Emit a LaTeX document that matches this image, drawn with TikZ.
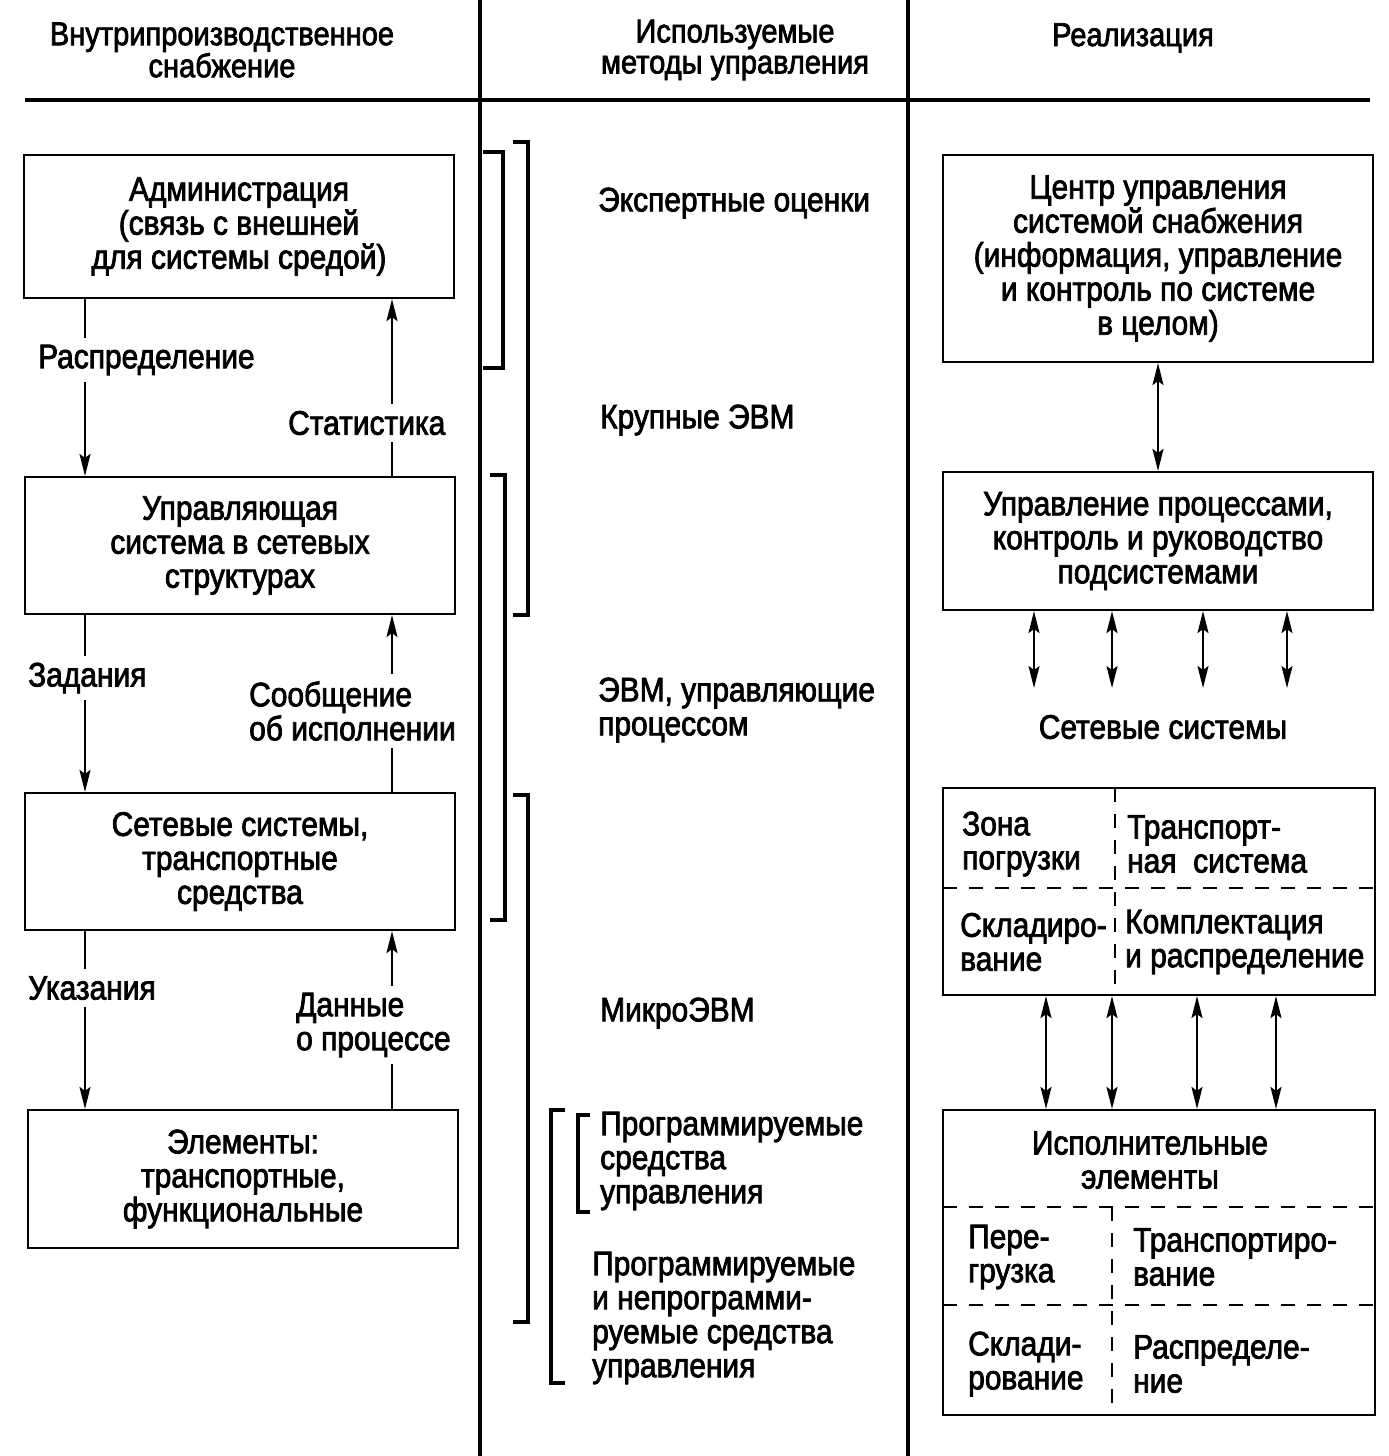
\documentclass[tikz,border=0pt]{standalone}
\usepackage{fontspec}
\setmainfont{Liberation Sans}[FakeStretch=0.88,FakeBold=2.2]
\usetikzlibrary{arrows.meta}
\begin{document}
\begin{tikzpicture}[x=1pt, y=-1pt,
    every node/.style={font=\fontsize{34}{34}\selectfont, inner sep=3pt},
    box/.style={draw, line width=2.2pt, minimum width=430pt, align=center},
    lbl/.style={anchor=west, align=left, inner sep=7pt},
    head/.style={align=center, font=\fontsize{33}{31}\selectfont},
    flow/.style={line width=2pt},
    tip/.style={flow, -{Stealth[length=22pt,width=11pt,inset=4pt]}},
    dtip/.style={flow, {Stealth[length=22pt,width=11pt,inset=4pt]}-{Stealth[length=22pt,width=11pt,inset=4pt]}},
    rule/.style={line width=3.5pt},
    brk/.style={line width=3.5pt},
    cell/.style={line width=1.8pt, dash pattern=on 14pt off 12pt}]
    \useasboundingbox (0,0) rectangle (1389,1456);
    \node[head] (h1) at (222,50)  {Внутрипроизводственное\\снабжение};
    \node[head] (h2) at (735,50)  {Используемые\\методы управления};
    \node[head] (h3) at (1133,38) {Реализация};
    \draw[rule] (25,100) -- (1370,100);
    \draw[rule] (480,0) -- (480,1456);
    \draw[rule] (908,0) -- (908,1456);
    % left column
    \node[box, minimum height=143pt] (adm)  at (239,226.5) {Администрация\\(связь с внешней\\для системы средой)};
    \node[box, minimum height=137pt] (ctrl) at (240,545.5) {Управляющая\\система в сетевых\\структурах};
    \node[box, minimum height=137pt] (net)  at (240,861.5) {Сетевые системы,\\транспортные\\средства};
    \node[box, minimum height=138pt] (elem) at (243,1179)  {Элементы:\\транспортные,\\функциональные};
    \coordinate (dn) at (85,0);
    \coordinate (up) at (392,0);
    \node[lbl] (distr) at (31,360)   {Распределение};
    \node[lbl] (stat)  at (281,423)  {Статистика};
    \node[lbl] (task)  at (21,678)   {Задания};
    \node[lbl] (rep)   at (242,711)  {Сообщение\\об исполнении};
    \node[lbl] (instr) at (21,988)   {Указания};
    \node[lbl] (data)  at (289,1025) {Данные\\о процессе};
    \draw[flow] (adm.south-|dn)   -- (distr.north-|dn);
    \draw[tip]  (distr.south-|dn) -- (ctrl.north-|dn);
    \draw[flow] (ctrl.north-|up)  -- (stat.south-|up);
    \draw[tip]  (stat.north-|up)  -- (adm.south-|up);
    \draw[flow] (ctrl.south-|dn)  -- (task.north-|dn);
    \draw[tip]  (task.south-|dn)  -- (net.north-|dn);
    \draw[flow] (net.north-|up)   -- (rep.south-|up);
    \draw[tip]  (rep.north-|up)   -- (ctrl.south-|up);
    \draw[flow] (net.south-|dn)   -- (instr.north-|dn);
    \draw[tip]  (instr.south-|dn) -- (elem.north-|dn);
    \draw[flow] (elem.north-|up)  -- (data.south-|up);
    \draw[tip]  (data.north-|up)  -- (net.south-|up);
    % middle column
    \draw[brk] (483,152)  -| (503,368)  -- (483,368);
    \draw[brk] (513,142)  -| (528,615)  -- (513,615);
    \draw[brk] (490,475)  -| (505,920)  -- (490,920);
    \draw[brk] (513,795)  -| (528,1322) -- (513,1322);
    \draw[brk] (565,1110) -| (551,1383) -- (565,1383);
    \draw[brk] (590,1115) -| (578,1212) -- (590,1212);
    \node[lbl] (expert)    at (591,203)  {Экспертные оценки};
    \node[lbl] (mainframe) at (593,420)  {Крупные ЭВМ};
    \node[lbl] (pcs)       at (591,710)  {ЭВМ, управляющие\\процессом};
    \node[lbl] (micro)     at (593,1013) {МикроЭВМ};
    \node[lbl] (plc)       at (593,1161) {Программируемые\\средства\\управления};
    \node[lbl] (mixed)     at (585,1318) {Программируемые\\и непрограмми-\\руемые средства\\управления};
    % right column
    \node[box, minimum height=207pt] (centre) at (1158,258.5) {Центр управления\\системой снабжения\\(информация, управление\\и контроль по системе\\в целом)};
    \node[box, minimum height=138pt] (proc) at (1158,541) {Управление процессами,\\контроль и руководство\\подсистемами};
    \draw[dtip] (centre) -- (proc);
    \foreach \x in {1034,1112,1203,1287} {
        \coordinate (t) at (\x,688);
        \draw[dtip] (proc.south-|t) -- (t);
    }
    \node (netsys) at (1163,727) {Сетевые системы};
    \node[box, minimum width=432pt, minimum height=207pt] (zones) at (1159,891.5) {};
    \draw[cell] (943,888) -- (1375,888);
    \draw[cell] (1115,788) -- (1115,995);
    \node[lbl] (load)  at (955,844)  {Зона\\погрузки};
    \node[lbl] (trans) at (1120,844) {Транспорт-\\ная~~система};
    \node[lbl] (store) at (953,942)  {Складиро-\\вание};
    \node[lbl] (kompl) at (1118,942) {Комплектация\\и распределение};
    \node[box, minimum width=432pt, minimum height=305pt] (exec) at (1159,1262.5) {};
    \foreach \x in {1046,1112,1197,1276} {
        \coordinate (c) at (\x,0);
        \draw[dtip] (zones.south-|c) -- (exec.north-|c);
    }
    \node[align=center] (execlbl) at (1150,1160) {Исполнительные\\элементы};
    \draw[cell] (943,1207) -- (1375,1207);
    \draw[cell] (943,1305) -- (1375,1305);
    \draw[cell] (1112,1207) -- (1112,1415);
    \node[lbl] (reload) at (961,1257)  {Пере-\\грузка};
    \node[lbl] (carry)  at (1126,1257) {Транспортиро-\\вание};
    \node[lbl] (store2) at (961,1364)  {Склади-\\рование};
    \node[lbl] (distr2) at (1126,1364) {Распределе-\\ние};
\end{tikzpicture}
\end{document}
